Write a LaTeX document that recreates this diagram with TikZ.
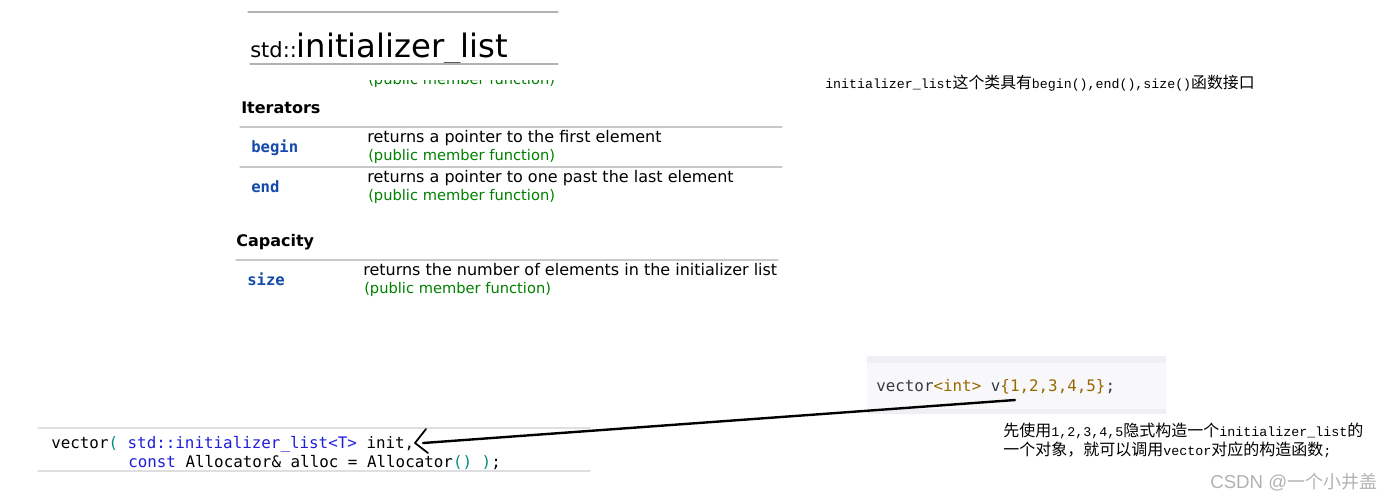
\documentclass[tikz,border=0pt]{standalone}
\usepackage{fontspec}
\setmainfont{DejaVu Sans}
\setmonofont{DejaVu Sans Mono}
\newfontfamily\cjkfont{Noto Sans CJK SC}
\newfontfamily\notemono{Liberation Mono}
\newfontfamily\wmfont{Liberation Sans}
\definecolor{rulegray}{RGB}{200,200,200}
\definecolor{memgreen}{RGB}{0,128,0}
\definecolor{linkblue}{RGB}{20,74,170}
\definecolor{kwblue}{RGB}{30,30,220}
\definecolor{parteal}{RGB}{0,140,130}
\definecolor{codedark}{RGB}{56,58,66}
\definecolor{codebrown}{RGB}{152,104,1}
\definecolor{boxbg}{RGB}{248,248,250}
\definecolor{boxband}{RGB}{238,240,244}
\newcommand{\zh}[2][11.9]{{\cjkfont\fontsize{#1}{#1}\selectfont #2}}
\begin{document}
\begin{tikzpicture}[x=0.75pt,y=-0.75pt,line join=round,line cap=round,
  every node/.style={inner sep=0pt,anchor=base west},
  rule/.style={draw=rulegray,line width=0.8pt},
  head/.style={font=\fontsize{12}{14}\selectfont\bfseries},
  desc/.style={font=\fontsize{12}{14}\selectfont},
  member/.style={font=\fontsize{11}{13}\selectfont,text=memgreen},
  fname/.style={font=\fontsize{11.7}{14}\ttfamily\bfseries,text=linkblue},
  code/.style={font=\fontsize{11.9}{14}\ttfamily},
  note/.style={font=\fontsize{9.95}{12}\notemono},
  pen/.style={line width=1.8pt,black}]
\useasboundingbox (0,0) rectangle (1396,501);
% cppreference part
\draw[rule,draw=gray!60] (248,12) -- (558,12);
\node (title) at (250,57) {\fontsize{15.75}{18}\selectfont std::\fontsize{24.2}{28}\selectfont initializer\_list};
\draw[rule,draw=gray!60] (250,64) -- (558,64);
\begin{scope}
  \clip (360,80) rectangle (570,92);
  \node[member] (cut) at (368,84) {(public member function)};
\end{scope}
\node[head] (iter) at (241,113) {Iterators};
\draw[rule] (240,127) -- (782,127);
\node[fname] (begin) at (251,152) {begin};
\node[desc] (bdesc) at (367,142) {returns a pointer to the first element};
\node[member] (bmem) at (368,160) {(public member function)};
\draw[rule] (240,167) -- (782,167);
\node[fname] (end) at (251,192) {end};
\node[desc] (edesc) at (367,182) {returns a pointer to one past the last element};
\node[member] (emem) at (368,200) {(public member function)};
\node[head] (cap) at (236,246) {Capacity};
\draw[rule] (236,260) -- (778,260);
\node[fname] (size) at (247,285) {size};
\node[desc] (sdesc) at (363,275) {returns the number of elements in the initializer list};
\node[member] (smem) at (364,293) {(public member function)};
% note top right
\node[note] (note1) at (825,88) {initializer\_list\zh{这个类具有}begin(),end(),size()\zh{函数接口}};
% code box
\fill[boxbg] (867,356) rectangle (1166,414);
\fill[boxband] (867,356) rectangle (1166,363);
\fill[boxband] (867,409) rectangle (1166,414);
\node[code,text=codedark] (init) at (876,391) {vector\textcolor{codebrown}{<int>} v\textcolor{codebrown}{\{1,2,3,4,5\}};};
% constructor
\draw[rule,draw=gray!25] (38,428) -- (590,428);
\node[code] (ctor) at (51,448) {vector\textcolor{parteal}{(} \textcolor{kwblue}{std::initializer\_list<T>} init,};
\node[code] (alloc) at (128,467) {\textcolor{kwblue}{const} Allocator\& alloc = Allocator\textcolor{parteal}{()} \textcolor{parteal}{)};};
\draw[rule,draw=gray!25] (38,471) -- (590,471);
% note bottom right
\node[note,font=\fontsize{10}{12}\notemono] (note2) at (1003,436) {\zh[12]{先使用}1,2,3,4,5\zh[12]{隐式构造一个}initializer\_list\zh[12]{的}};
\node[note,font=\fontsize{10}{12}\notemono] (note3) at (1003,455) {\zh[12]{一个对象，就可以调用}vector\zh[12]{对应的构造函数};};
% arrow
\coordinate (tail) at (1015,400);
\coordinate (tip) at (415,443);
\draw[pen] (tail) -- ([xshift=6]tip);
\draw[pen,line width=1.3pt] ([shift={(11,-14)}]tip) -- (tip) -- ([shift={(13,10)}]tip);
% watermark
\node[text=gray!60] (wm) at (1210,488) {\wmfont\fontsize{14}{16}\selectfont CSDN @\zh[13.5]{一个小井盖}};
\end{tikzpicture}
\end{document}
